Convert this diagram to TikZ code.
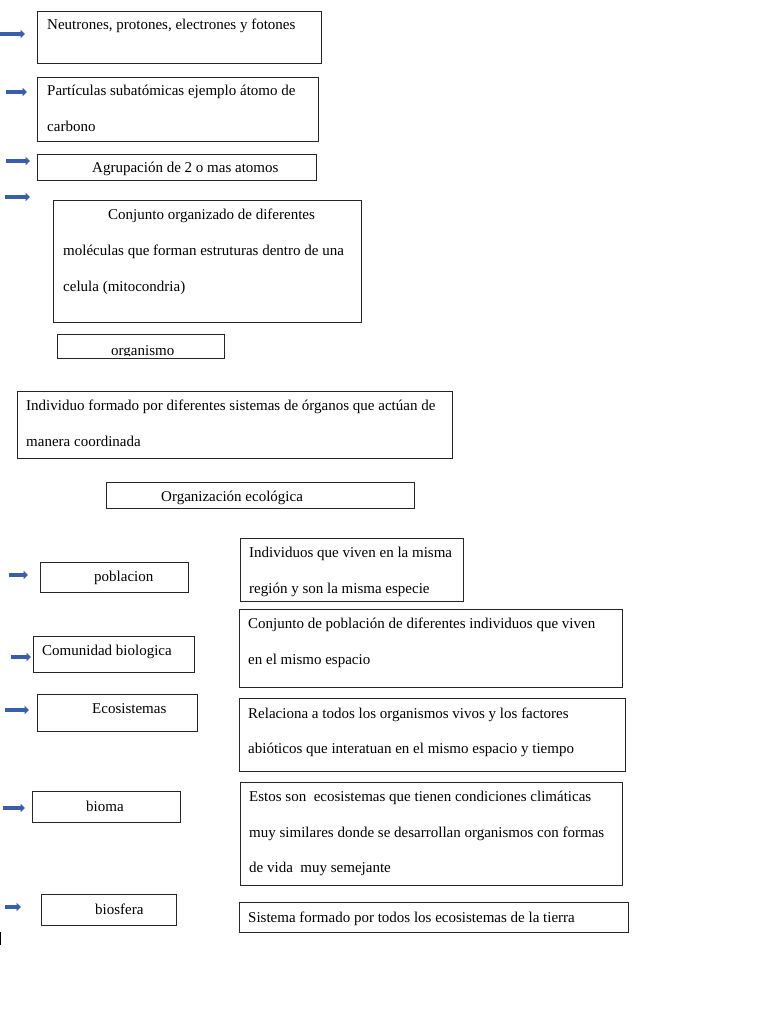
\documentclass[tikz,border=0pt]{standalone}
\usepackage{fontspec}
\setmainfont{Liberation Serif}
\usetikzlibrary{arrows.meta}
\definecolor{arrblue}{RGB}{58,95,170}
\tikzset{
  box/.style={draw=black!85, line width=1pt, inner sep=0pt, anchor=north west},
  txt/.style={inner sep=0pt, anchor=base west, font=\fontsize{15}{36}\selectfont},
  blarrow/.style={draw=arrblue, line width=3.2pt, -{Triangle[length=4.5pt,width=8.5pt]}},
}
\newcommand{\bx}[5]{\node[box, minimum width=#4-#2, minimum height=#5-#3] (#1) at (#2,#3) {};}
\begin{document}
\begin{tikzpicture}[x=1pt,y=-1pt]
\useasboundingbox[fill=white] (0,0) rectangle (768,1024);

% boxes
\bx{b1}{37}{11}{321}{63}
\bx{b2}{37}{77}{318}{141}
\bx{b3}{37}{154}{316}{180}
\bx{b4}{53}{200}{361}{322}
\bx{b5}{57}{334}{224}{358}
\bx{b6}{17}{391}{452}{458}
\bx{b7}{106}{482}{414}{508}
\bx{l1}{40}{562}{188}{592}
\bx{l2}{33}{636}{194}{672}
\bx{l3}{37}{694}{197}{731}
\bx{l4}{32}{791}{180}{822}
\bx{l5}{41}{894}{176}{925}
\bx{r1}{240}{538}{463}{601}
\bx{r2}{239}{609}{622}{687}
\bx{r3}{239}{698}{625}{771}
\bx{r4}{240}{782}{622}{885}
\bx{r5}{239}{902}{628}{932}

% texts
\node[txt] (t1) at (47,30) {Neutrones, protones, electrones y fotones};
\node[txt] (t2a) at (47,96) {Partículas subatómicas ejemplo átomo de};
\node[txt] (t2b) at (47,132) {carbono};
\node[txt] (t3) at (92,173) {Agrupación de 2 o mas atomos};
\node[txt] (t4a) at (108,219) {Conjunto organizado de diferentes};
\node[txt] (t4b) at (63,255) {moléculas que forman estruturas dentro de una};
\node[txt] (t4c) at (63,291) {celula (mitocondria)};
\begin{scope}
\clip (57.5,334.5) rectangle (223.5,355.8);
\node[txt] (t5) at (111,355.5) {organismo};
\end{scope}
\node[txt] (t6a) at (26,410) {Individuo formado por diferentes sistemas de órganos que actúan de};
\node[txt] (t6b) at (26,446) {manera coordinada};
\node[txt] (t7) at (161,501) {Organización ecológica};
\node[txt] (tl1) at (94,581) {poblacion};
\node[txt] (tl2) at (42,655) {Comunidad biologica};
\node[txt] (tl3) at (92,713) {Ecosistemas};
\node[txt] (tl4) at (86,811) {bioma};
\node[txt] (tl5) at (95,914) {biosfera};
\node[txt] (tr1a) at (249,557) {Individuos que viven en la misma};
\node[txt] (tr1b) at (249,593) {región y son la misma especie};
\node[txt] (tr2a) at (248,628) {Conjunto de población de diferentes individuos que viven};
\node[txt] (tr2b) at (248,664) {en el mismo espacio};
\node[txt] (tr3a) at (248,718) {Relaciona a todos los organismos vivos y los factores};
\node[txt] (tr3b) at (248,753) {abióticos que interatuan en el mismo espacio y tiempo};
\node[txt] (tr4a) at (249,801) {Estos son\ \ ecosistemas que tienen condiciones climáticas};
\node[txt] (tr4b) at (249,837) {muy similares donde se desarrollan organismos con formas};
\node[txt] (tr4c) at (249,872) {de vida\ \ muy semejante};
\node[txt] (tr5) at (248,922) {Sistema formado por todos los ecosistemas de la tierra};

% arrows
\coordinate (a1s) at (0,34);   \coordinate (a1e) at (25,34);
\coordinate (a2s) at (6,92);   \coordinate (a2e) at (27,92);
\coordinate (a3s) at (6,161);  \coordinate (a3e) at (30,161);
\coordinate (a4s) at (5,197);  \coordinate (a4e) at (30,197);
\coordinate (a5s) at (9,575);  \coordinate (a5e) at (28,575);
\coordinate (a6s) at (11,657); \coordinate (a6e) at (31,657);
\coordinate (a7s) at (5,710);  \coordinate (a7e) at (29,710);
\coordinate (a8s) at (3,808);  \coordinate (a8e) at (25,808);
\coordinate (a9s) at (5,907);  \coordinate (a9e) at (21,907);
\foreach \i in {1,...,9} {\draw[blarrow] (a\i s) -- (a\i e);}

% small mark
\coordinate (m1) at (0.6,932); \coordinate (m2) at (0.6,945);
\draw[line width=1.2pt] (m1) -- (m2);
\end{tikzpicture}
\end{document}
